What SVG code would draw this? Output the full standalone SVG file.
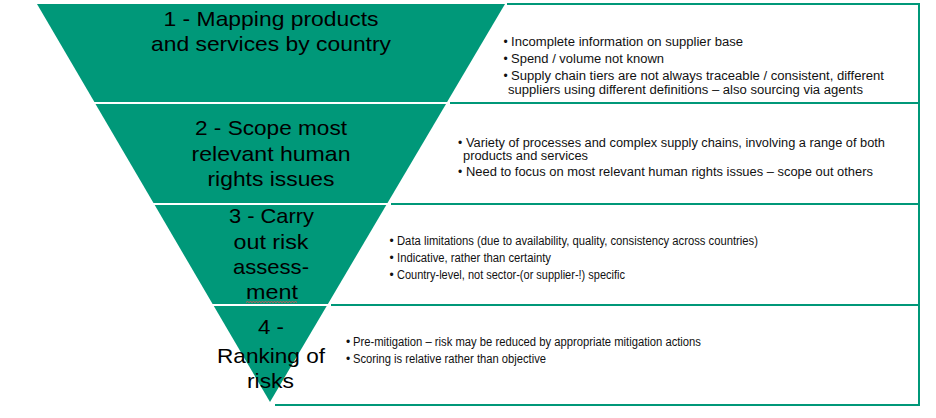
<svg xmlns="http://www.w3.org/2000/svg" width="936" height="418" viewBox="0 0 936 418">
  <style>
    .band { fill: #009879; }
    .box { fill: none; stroke: #009879; stroke-width: 2; }
    .title { font-family: "Liberation Sans", Arial, sans-serif; font-size: 21px; fill: #000; text-anchor: middle; }
    .bul { font-family: "Liberation Sans", Arial, sans-serif; font-size: 12.5px; fill: #111; }
    .dot { font-family: "Liberation Sans", Arial, sans-serif; font-size: 12px; fill: #111; }
  </style>
  <rect width="936" height="418" fill="#fff"/>

  <g id="node1">
    <polygon class="band" points="37,4 505,4 447.1,102 94.4,102"/>
    <path class="box" d="M507,4 H919 V103 H450"/>
    <text class="title" x="271" y="26" textLength="215" lengthAdjust="spacingAndGlyphs">1 - Mapping products</text>
    <text class="title" x="271" y="51" textLength="240" lengthAdjust="spacingAndGlyphs">and services by country</text>
    <text class="dot" x="503.5" y="46">•</text>
    <text class="bul" x="511" y="46" textLength="232" lengthAdjust="spacingAndGlyphs">Incomplete information on supplier base</text>
    <text class="dot" x="503.5" y="63">•</text>
    <text class="bul" x="511" y="63" textLength="153" lengthAdjust="spacingAndGlyphs">Spend / volume not known</text>
    <text class="dot" x="503.5" y="80">•</text>
    <text class="bul" x="511" y="80" textLength="373" lengthAdjust="spacingAndGlyphs">Supply chain tiers are not always traceable / consistent, different</text>
    <text class="bul" x="508" y="94" textLength="355" lengthAdjust="spacingAndGlyphs">suppliers using different definitions – also sourcing via agents</text>
  </g>

  <g id="node2">
    <polygon class="band" points="95.5,104 446,104 387.5,203 153.5,203"/>
    <path class="box" d="M450,103 H919 V204 H391"/>
    <text class="title" x="271" y="135" textLength="152" lengthAdjust="spacingAndGlyphs">2 - Scope most</text>
    <text class="title" x="271" y="161" textLength="159" lengthAdjust="spacingAndGlyphs">relevant human</text>
    <text class="title" x="271" y="186" textLength="127" lengthAdjust="spacingAndGlyphs">rights issues</text>
    <text class="dot" x="458" y="147">•</text>
    <text class="bul" x="466" y="147" textLength="419" lengthAdjust="spacingAndGlyphs">Variety of processes and complex supply chains, involving a range of both</text>
    <text class="bul" x="463" y="160" textLength="125" lengthAdjust="spacingAndGlyphs">products and services</text>
    <text class="dot" x="458" y="176">•</text>
    <text class="bul" x="466" y="176" textLength="407" lengthAdjust="spacingAndGlyphs">Need to focus on most relevant human rights issues – scope out others</text>
  </g>

  <g id="node3">
    <polygon class="band" points="154.7,205 386.3,205 327.9,304 212.6,304"/>
    <path class="box" d="M391,204 H919 V305 H331"/>
    <text class="title" x="271.5" y="223" textLength="85" lengthAdjust="spacingAndGlyphs">3 - Carry</text>
    <text class="title" x="271" y="249" textLength="75" lengthAdjust="spacingAndGlyphs">out risk</text>
    <text class="title" x="271" y="274" textLength="76" lengthAdjust="spacingAndGlyphs">assess-</text>
    <text class="title" x="272" y="299" textLength="52" lengthAdjust="spacingAndGlyphs">ment</text>
    <path d="M246,302.5 l1.5,-1 l1.5,1 l1.5,-1 l1.5,1 l1.5,-1 l1.5,1 l1.5,-1 l1.5,1 l1.5,-1 l1.5,1 l1.5,-1 l1.5,1 l1.5,-1 l1.5,1 l1.5,-1 l1.5,1 l1.5,-1 l1.5,1 l1.5,-1 l1.5,1 l1.5,-1 l1.5,1 l1.5,-1 l1.5,1 l1.5,-1 l1.5,1 l1.5,-1 l1.5,1 l1.5,-1 l1.5,1 l1.5,-1 l1.5,1 l1.5,-1 l1.5,1" fill="none" stroke="#e05050" stroke-width="0.9"/>
    <text class="dot" x="389.5" y="245">•</text>
    <text class="bul" x="397" y="245" textLength="361" lengthAdjust="spacingAndGlyphs">Data limitations (due to availability, quality, consistency across countries)</text>
    <text class="dot" x="389.5" y="262">•</text>
    <text class="bul" x="397" y="262" textLength="154" lengthAdjust="spacingAndGlyphs">Indicative, rather than certainty</text>
    <text class="dot" x="389.5" y="279">•</text>
    <text class="bul" x="397" y="279" textLength="228" lengthAdjust="spacingAndGlyphs">Country-level, not sector-(or supplier-!) specific</text>
  </g>

  <g id="node4">
    <polygon class="band" points="213.8,306 326.7,306 270,402"/>
    <path class="box" d="M331,305 H919 V405 H275"/>
    <text class="title" x="271" y="334" textLength="26" lengthAdjust="spacingAndGlyphs">4 -</text>
    <text class="title" x="271" y="363" textLength="108" lengthAdjust="spacingAndGlyphs">Ranking of</text>
    <text class="title" x="270.5" y="388" textLength="47" lengthAdjust="spacingAndGlyphs">risks</text>
    <text class="dot" x="346" y="346">•</text>
    <text class="bul" x="353" y="346" textLength="348" lengthAdjust="spacingAndGlyphs">Pre-mitigation – risk may be reduced by appropriate mitigation actions</text>
    <text class="dot" x="346" y="363">•</text>
    <text class="bul" x="353" y="363" textLength="193" lengthAdjust="spacingAndGlyphs">Scoring is relative rather than objective</text>
  </g>

  <g id="connectors"></g>
</svg>
